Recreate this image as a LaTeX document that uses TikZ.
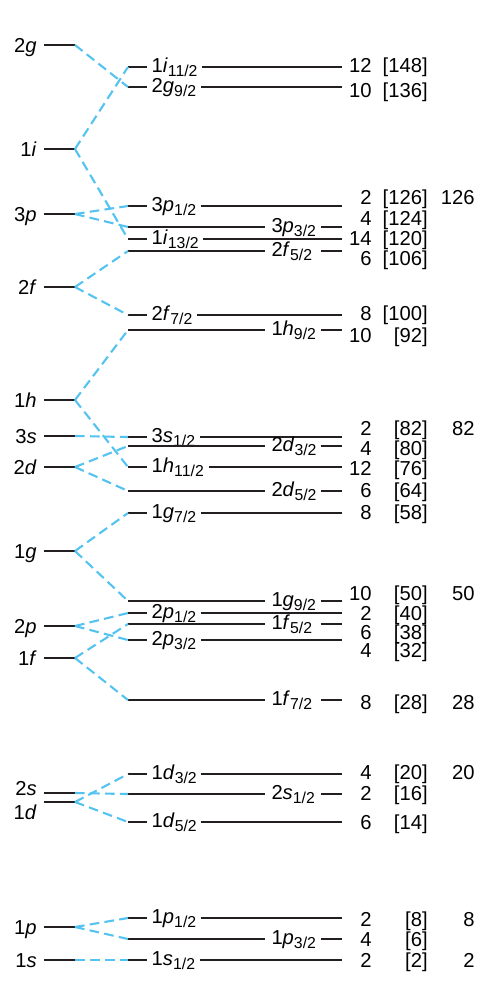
\documentclass[tikz,border=0pt]{standalone}
\usepackage{fontspec}
\setmainfont{Liberation Sans}
\usepackage{xcolor}
\usepackage{tikz}
\usetikzlibrary{positioning}

\definecolor{splitblue}{RGB}{85,195,240}
\definecolor{levelgray}{RGB}{35,31,32}
\newcommand{\orb}[2]{#1\textit{#2}}
\newcommand{\lj}[3]{#1\textit{#2}\raisebox{-2.2pt}{\fontsize{9}{10}\selectfont #3}}

\begin{document}
\begin{tikzpicture}[x=0.2mm,y=-0.2mm,
    lvl/.style={line width=1.3pt,levelgray},
    conn/.style={line width=1.2pt,splitblue,dash pattern=on 5.5pt off 3pt},
    txt/.style={inner sep=0pt,text height=8pt,text depth=0pt,font=\fontsize{11.5}{13}\selectfont},
    lab/.style={txt,text depth=1.8pt,inner xsep=2.5pt}]
        \useasboundingbox (0,0) rectangle (500,985);
        % oscillator shells
        \foreach \n/\y/\ty/\t in {2g/45/45/\orb2g, 1i/149/149/\orb1i, 3p/214/214/\orb3p,
            2f/287/287/\orb2f, 1h/400/400/\orb1h, 3s/436/436/\orb3s, 2d/467/467/\orb2d,
            1g/551/551/\orb1g, 2p/626/626/\orb2p, 1f/658/658/\orb1f, 2s/793/788/\orb2s,
            1d/802/812/\orb1d, 1p/927/927/\orb1p, 1s/960/960/\orb1s}{
          \draw[lvl] (44,\y) -- (75,\y) coordinate (L\n);
          \node[txt,anchor=east] (tL\n) at (37,\ty) {\t};
        }
        % split levels, label on the left
        \foreach \n/\y/\t in {1i11/67/{\lj1i{11/2}}, 2g9/87/{\lj2g{9/2}}, 3p1/206/{\lj3p{1/2}},
            1i13/239/{\lj1i{13/2}}, 2f7/315/{\lj2f{7/2}}, 3s1/437/{\lj3s{1/2}},
            1h11/467/{\lj1h{11/2}}, 1g7/513/{\lj1g{7/2}}, 2p1/613/{\lj2p{1/2}},
            2p3/640/{\lj2p{3/2}}, 1d3/774/{\lj1d{3/2}}, 1d5/822/{\lj1d{5/2}},
            1p1/918/{\lj1p{1/2}}, 1s1/960/{\lj1s{1/2}}}{
          \node[lab,anchor=west] (n\n) at (147,\y) {\t};
          \draw[lvl] (128,\y) coordinate (R\n) -- (n\n.west) (n\n.east) -- (342,\y);
        }
        % split levels, label on the right
        \foreach \n/\y/\t in {3p3/227/{\lj3p{3/2}}, 2f5/251/{\lj2f{5/2}}, 1h9/330/{\lj1h{9/2}},
            2d3/446/{\lj2d{3/2}}, 2d5/491/{\lj2d{5/2}}, 1g9/601/{\lj1g{9/2}},
            1f5/624/{\lj1f{5/2}}, 1f7/700/{\lj1f{7/2}}, 2s1/794/{\lj2s{1/2}},
            1p3/939/{\lj1p{3/2}}}{
          \node[lab,anchor=west,inner xsep=3.5pt,text width=24.3pt,align=left] (n\n) at (265,\y) {\t};
          \draw[lvl] (128,\y) coordinate (R\n) -- (n\n.west) (n\n.east) -- (342,\y);
        }
        % spin-orbit splitting
        \foreach \a/\b in {2g/2g9, 1i/1i11, 1i/1i13, 3p/3p1, 3p/3p3, 2f/2f5, 2f/2f7,
            1h/1h9, 1h/1h11, 3s/3s1, 2d/2d3, 2d/2d5, 1g/1g7, 1g/1g9, 2p/2p1, 2p/2p3,
            1f/1f5, 1f/1f7, 2s/2s1, 1d/1d3, 1d/1d5, 1p/1p1, 1p/1p3, 1s/1s1}
          \draw[conn] (L\a) -- (R\b);
        % occupancies and running totals
        \foreach \y/\d/\c in {65/12/148, 90/10/136, 197/2/126, 218/4/124, 238/14/120,
            258/6/106, 313/8/100, 335/10/92, 428/2/82, 448/4/80, 468/12/76, 490/6/64,
            512/8/58, 593/10/50, 613/2/40, 632/6/38, 650/4/32, 702/8/28, 772/4/20,
            793/2/16, 822/6/14, 919/2/8, 939/4/6, 960/2/2}{
          \node[txt,anchor=east] (d\y) at (372,\y) {\d};
          \node[txt,anchor=east] (c\y) at (428,\y) {[\c]};
        }
        % magic numbers
        \foreach \y/\m in {197/126, 428/82, 593/50, 702/28, 772/20, 919/8, 960/2}
          \node[txt,anchor=east] (m\m) at (475,\y) {\m};
\end{tikzpicture}
\end{document}
